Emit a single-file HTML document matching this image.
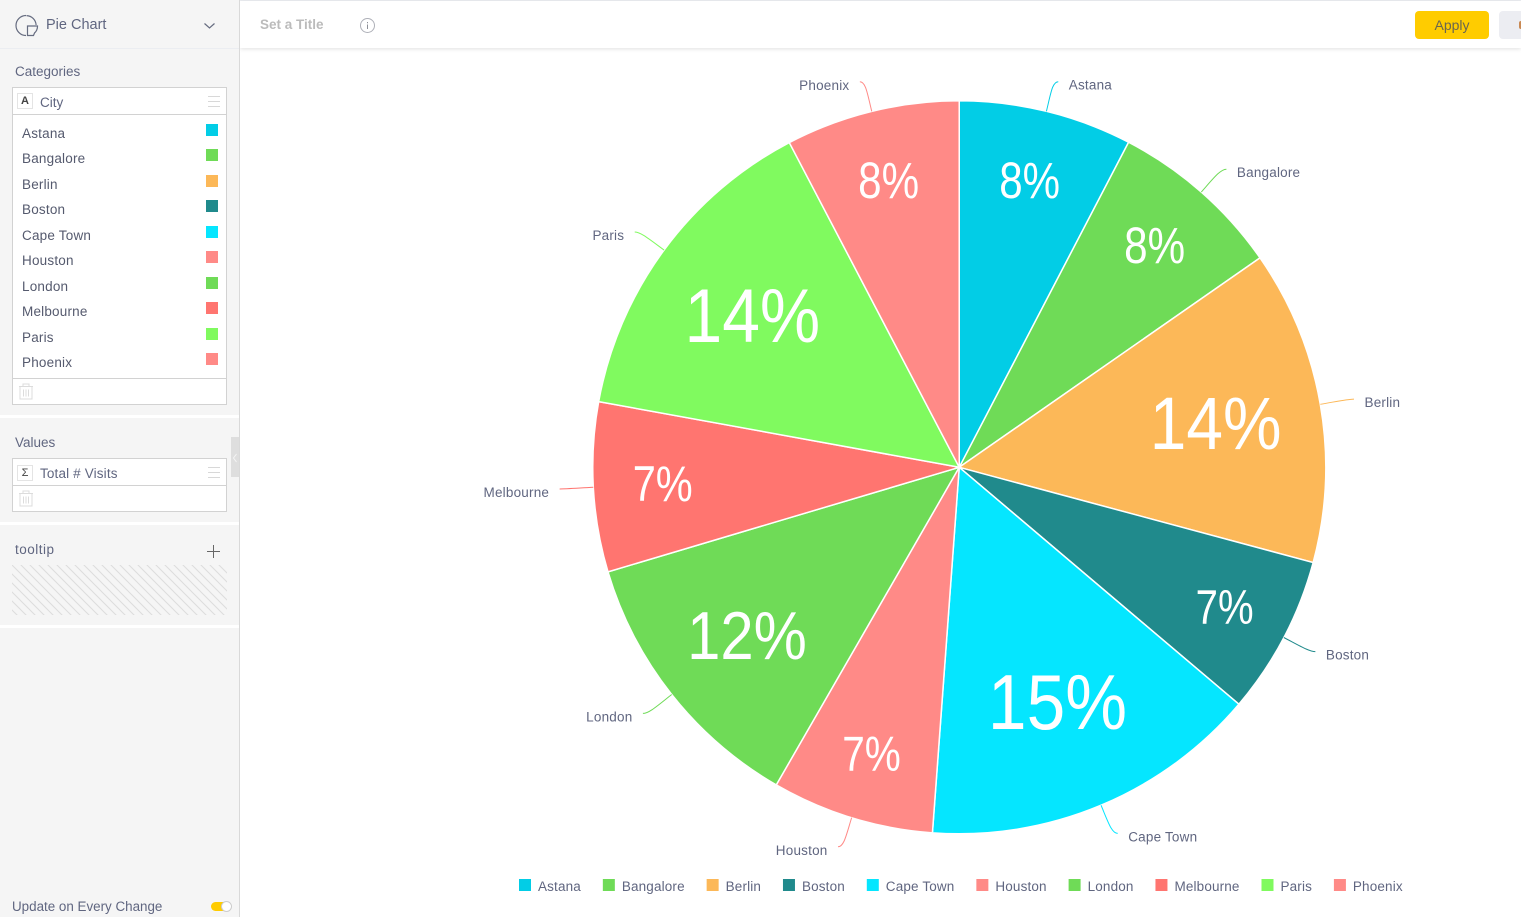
<!DOCTYPE html>
<html lang="en">
<head>
<meta charset="utf-8">
<title>Pie Chart</title>
<style>
html,body{margin:0;padding:0;width:1521px;height:917px;overflow:hidden;background:#fff;font-family:"Liberation Sans",sans-serif;color:#606680;}
.a{position:absolute;box-sizing:border-box;}
.t{position:absolute;white-space:nowrap;line-height:16px;font-size:13.5px;}
#sidebar{position:absolute;left:0;top:0;width:240px;height:917px;background:#f5f5f5;border-right:1px solid #d9d9d9;box-sizing:border-box;}
.band{position:absolute;left:0;width:239px;background:#fff;}
.box{position:absolute;background:#fff;border:1px solid #d2d2d2;box-sizing:border-box;}
.rule{position:absolute;left:12px;width:215px;height:1px;background:#d2d2d2;}
.menu{position:absolute;left:208px;width:12px;height:11px;border-top:1px solid #d8d8d8;border-bottom:1px solid #d8d8d8;box-sizing:border-box;}
.menu:after{content:"";position:absolute;left:0;right:0;top:4px;height:1px;background:#d8d8d8;}
.chip{position:absolute;left:17px;width:16px;height:16px;background:#fff;border:1px solid #e4e4e4;box-sizing:border-box;font-size:11px;line-height:14px;text-align:center;color:#444;}
#chart{position:absolute;left:0;top:0;}
</style>
</head>
<body>
<div class="a" style="left:0;top:0;width:1521px;height:1px;background:#eceef2"></div>
<div class="a" style="left:240px;top:1px;width:1281px;height:47px;background:#fff;box-shadow:0 1px 4px rgba(0,0,0,.12)"></div>

<div id="sidebar">
  <div class="a" style="left:0;top:48px;width:239px;height:1px;background:#ebedf1"></div>
  <svg class="a" style="left:15px;top:13px" width="25" height="25" viewBox="0 0 25 25">
    <path d="M12 2.500a9.800 9.800 0 1 0 0 20" transform="translate(-1 0)" fill="none" stroke="#666c80" stroke-width="1.200"/>
    <path d="M11.500 2.600a9.800 9.800 0 0 1 9.600 9.400" fill="none" stroke="#666c80" stroke-width="1.200"/>
    <path d="M12.500 13h10v.5a9 9 0 0 1-3 6.500l-1 2.500h-6z" fill="#f5f5f5" stroke="#666c80" stroke-width="1.200"/>
  </svg>
  <div class="t" style="left:46px;top:17px;font-size:14.5px">Pie Chart</div>
  <svg class="a" style="left:203px;top:22px" width="13" height="8"><path d="M1.500 1.500L6.500 6l5-4.500" fill="none" stroke="#666c80" stroke-width="1.200"/></svg>

  <div class="t" style="left:15px;top:64px">Categories</div>
  <div class="box" style="left:12px;top:87px;width:215px;height:318px"></div>
  <div class="rule" style="top:114px"></div>
  <div class="rule" style="top:378px"></div>
  <div class="chip" style="top:93px;font-weight:bold">A</div>
  <div class="t" style="left:40px;top:95px">City</div>
  <div class="menu" style="top:96px"></div>
  <div id="catList"></div>
  <svg class="a" style="left:18px;top:383px" width="16" height="17"><path d="M1 3.500h14M5 3.500V1h6v2.500M2 3.500v12.500h12V3.500M5.500 6.500v7M8 6.500v7M10.500 6.500v7" fill="none" stroke="#dcdcdc"/></svg>

  <div class="band" style="top:415px;height:3px"></div>
  <div class="t" style="left:15px;top:435px">Values</div>
  <div class="box" style="left:12px;top:458px;width:215px;height:54px"></div>
  <div class="rule" style="top:485px"></div>
  <div class="chip" style="top:465px">Σ</div>
  <div class="t" style="left:40px;top:466px;letter-spacing:.15px">Total # Visits</div>
  <div class="menu" style="top:467px"></div>
  <svg class="a" style="left:18px;top:490px" width="16" height="17"><path d="M1 3.500h14M5 3.500V1h6v2.500M2 3.500v12.500h12V3.500M5.500 6.500v7M8 6.500v7M10.500 6.500v7" fill="none" stroke="#dcdcdc"/></svg>
  <div class="a" style="left:231px;top:437px;width:8px;height:40px;background:#dedede"></div>
  <svg class="a" style="left:231px;top:452px" width="8" height="12"><path d="M5.500 2L2.500 6l3 4" fill="none" stroke="#f5f5f5"/></svg>

  <div class="band" style="top:522px;height:3px"></div>
  <div class="t" style="left:15px;top:542px;letter-spacing:.5px">tooltip</div>
  <svg class="a" style="left:206px;top:544px" width="15" height="15"><path d="M7.500 1v13M1 7.500h13" stroke="#666" stroke-width="1"/></svg>
  <svg class="a" style="left:12px;top:565px" width="215" height="50">
    <defs><pattern id="hatch" width="9" height="9" patternUnits="userSpaceOnUse"><path d="M-1 -1L10 10M-1 8L1 10M8 -1L10 1" stroke="#dcdcdc" stroke-width="1"/></pattern></defs>
    <rect width="215" height="50" fill="url(#hatch)"/>
  </svg>
  <div class="band" style="top:625px;height:3px"></div>

  <div class="t" style="left:12px;top:899px;font-size:13.4px">Update on Every Change</div>
  <div class="a" style="left:211px;top:902px;width:19px;height:9px;border-radius:5px;background:#ffcc00"></div>
  <div class="a" style="left:221px;top:901px;width:11px;height:11px;border-radius:50%;background:#fff;border:1px solid #ccc"></div>
</div>

<div class="t" style="left:260px;top:17px;font-weight:bold;font-size:13.500px;color:#bbbbbb">Set a Title</div>
<svg class="a" style="left:359px;top:17px" width="17" height="17"><circle cx="8.500" cy="8.500" r="7" fill="none" stroke="#aeb0b8"/><path d="M8.500 7.500v4.500M8.500 5v1.200" stroke="#8e9098"/></svg>
<div class="a" style="left:1415px;top:11px;width:74px;height:28px;border-radius:4px;background:#ffcc00;text-align:center;line-height:29px;font-size:14px;color:#6a6650">Apply</div>
<div class="a" style="left:1499px;top:11px;width:30px;height:28px;border-radius:4px;background:#ecedf2"></div>
<div class="a" style="left:1519px;top:21px;width:4px;height:8px;border-radius:2px;background:#c98a55"></div>

<svg id="chart" width="1521" height="917" xmlns="http://www.w3.org/2000/svg" style="pointer-events:none"></svg>

<script>
const categories = ["Astana","Bangalore","Berlin","Boston","Cape Town","Houston","London","Melbourne","Paris","Phoenix"];
const visits = [764,767,1386,700,1497,715,1207,747,1445,767];
const sliceColors = ["#02cde6","#6fdb57","#fcb858","#208a8c","#05e6ff","#ff8a87","#6fdb57","#ff7570","#80fa5f","#ff8a87"];

const cx = 959.25, cy = 467.3, R = 366.5;
const NS = "http://www.w3.org/2000/svg";
const svg = document.getElementById("chart");
const sidebarList = document.getElementById("catList");
const total = visits.reduce(function(s, v){ return s + v; }, 0);

function angleOf(v){ return v / total * Math.PI * 2; }
function px(r, a){ return cx + r * Math.sin(a); }
function py(r, a){ return cy - r * Math.cos(a); }
function mk(tag, attrs){
  const e = document.createElementNS(NS, tag);
  for (const k in attrs) e.setAttribute(k, attrs[k]);
  return e;
}
function slug(s){ return s.toLowerCase().replace(/\s+/g, "-"); }

let start = 0;
categories.forEach(function(name, i){
  const sweep = angleOf(visits[i]);
  const end = start + sweep;
  const large = sweep > Math.PI ? 1 : 0;

  const slice = mk("path", {
    d: "M" + cx + " " + cy + "L" + px(R, start) + " " + py(R, start) +
       "A" + R + " " + R + " 0 " + large + " 1 " + px(R, end) + " " + py(R, end) + "Z",
    fill: sliceColors[i], stroke: "#fff", "stroke-width": 1.5
  });
  
  
  svg.appendChild(slice);
  start = end;
});

start = 0;
categories.forEach(function(name, i){
  const sweep = angleOf(visits[i]);
  const mid = start + sweep / 2;
  start += sweep;
  const pct = visits[i] / total * 100;
  const label = Math.round(pct) + "%";
  const fs = 22 + 3.75 * pct;
  const r = 373.5 - 1.53 * fs;
  const pctText = mk("text", {
    x: px(r, mid), y: py(r, mid) + 0.355 * fs,
    "text-anchor": "middle", "font-size": fs, fill: "#fff",
    textLength: (label.length === 2 ? 1.2 : 1.78) * fs,
    lengthAdjust: "spacingAndGlyphs",
    "font-family": "\"Liberation Sans\", sans-serif"
  });
  pctText.textContent = label;
  
  
  svg.appendChild(pctText);

  const sx = px(R, mid), sy = py(R, mid);
  const sign = Math.sin(mid) >= 0 ? 1 : -1;
  const ex = px(400, mid) + sign * 4 * Math.abs(Math.cos(mid));
  const ey = py(397, mid);
  const mx = px(385, mid), my = py(385, mid);
  const line = mk("path", {
    d: "M" + sx + " " + sy + "C" + mx + " " + my + " " + (ex - sign * 6) + " " + ey + " " + ex + " " + ey,
    fill: "none", stroke: sliceColors[i], "stroke-width": 1
  });
  
  
  svg.appendChild(line);

  const tag = mk("text", {
    x: ex + sign * 10.5, y: ey + 8,
    "text-anchor": sign > 0 ? "start" : "end",
    "font-size": 13.5, fill: "#606680", "letter-spacing": 0.2,
    "font-family": "\"Liberation Sans\", sans-serif"
  });
  tag.textContent = name;
  
  
  svg.appendChild(tag);
});

let lx = 519;
categories.forEach(function(name, i){
  const sw = mk("rect", { x: lx, y: 879, width: 12, height: 12, fill: sliceColors[i] });
  
  
  svg.appendChild(sw);
  const t = mk("text", {
    x: lx + 19, y: 891, "font-size": 13.5, fill: "#606680", "letter-spacing": 0.15,
    "font-family": "\"Liberation Sans\", sans-serif"
  });
  t.textContent = name;
  
  
  svg.appendChild(t);
  lx += 19 + t.getComputedTextLength() + 21.9;
});

categories.forEach(function(name, i){
  const top = 125.4 + i * 25.45;
  const row = document.createElement("div");
  row.className = "t";
  row.style.left = "22px";
  row.style.top = (top + 0.6) + "px";
  row.style.letterSpacing = "0.2px";
  row.style.color = "#555a6e";
  row.textContent = name;
  
  
  sidebarList.appendChild(row);
  const chip = document.createElement("div");
  chip.className = "a";
  chip.style.left = "206px";
  chip.style.top = (top - 1.4) + "px";
  chip.style.width = "12px";
  chip.style.height = "12px";
  chip.style.background = sliceColors[i];
  
  
  sidebarList.appendChild(chip);
});
</script>
</body>
</html>
